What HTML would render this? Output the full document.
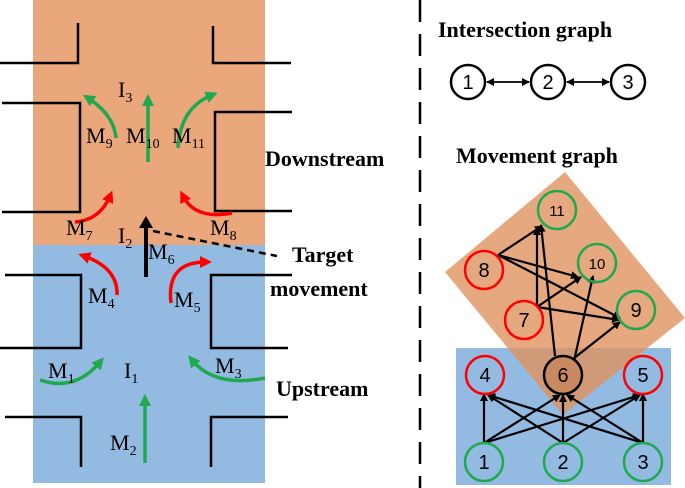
<!DOCTYPE html><html><head><style>body{margin:0;background:#fff}svg{display:block}</style></head><body>
<svg width="685" height="488" viewBox="0 0 685 488" xmlns="http://www.w3.org/2000/svg" font-family="Liberation Serif, serif">
<defs>
<marker id="ab" markerWidth="8" markerHeight="8" refX="7" refY="4" orient="auto" markerUnits="userSpaceOnUse"><path d="M0,0L8,4L0,8z" fill="#000"/></marker>
<marker id="ab2" markerWidth="8" markerHeight="8" refX="1" refY="4" orient="auto" markerUnits="userSpaceOnUse"><path d="M8,0L0,4L8,8z" fill="#000"/></marker>
<marker id="ag" markerWidth="12" markerHeight="12" refX="6" refY="6" orient="auto" markerUnits="userSpaceOnUse"><path d="M0,0L12,6L0,12z" fill="#1fa84f"/></marker>
<marker id="ar" markerWidth="12" markerHeight="12" refX="6" refY="6" orient="auto" markerUnits="userSpaceOnUse"><path d="M0,0L12,6L0,12z" fill="#f00"/></marker>
<marker id="ak" markerWidth="12" markerHeight="14" refX="6" refY="7" orient="auto" markerUnits="userSpaceOnUse"><path d="M0,0L12,7L0,14z" fill="#000"/></marker>
</defs>
<rect x="33" y="0" width="232" height="245" fill="#eba77c"/>
<rect x="33" y="245" width="232" height="238" fill="#93bbe2"/>
<g stroke="#000" stroke-width="2.5" fill="none">
<path d="M0,63H78V23M213,26V63H291M2,103H80V212H2M292,112H215V211H292M5,275H81V348H0M292,275H211V348H288M5,417H81V467M211,467V417H288"/>
</g>
<line x1="420" y1="0" x2="420" y2="488" stroke="#000" stroke-width="2.5" stroke-dasharray="22,12"/>
<!-- green arrows -->
<g stroke="#1fa84f" stroke-width="3.5" fill="none">
<path d="M116,138Q114,115 88,98" marker-end="url(#ag)"/>
<path d="M148,162V100" marker-end="url(#ag)"/>
<path d="M178,148Q180,108 212,95" marker-end="url(#ag)"/>
<path d="M40,380Q75,392 100,362" marker-end="url(#ag)"/>
<path d="M265,378Q215,388 192,360" marker-end="url(#ag)"/>
<path d="M145,463V400" marker-end="url(#ag)"/>
</g>
<g stroke="#f00" stroke-width="3.5" fill="none">
<path d="M75,222Q100,220 110,196" marker-end="url(#ar)"/>
<path d="M232,213Q195,220 183,196" marker-end="url(#ar)"/>
<path d="M117,295Q118,268 84,256" marker-end="url(#ar)"/>
<path d="M171,303Q166,262 206,262" marker-end="url(#ar)"/>
</g>
<path d="M146,277V222" stroke="#000" stroke-width="4" marker-end="url(#ak)"/>
<line x1="153" y1="231" x2="277" y2="256" stroke="#000" stroke-width="2.5" stroke-dasharray="7,5"/>
<g font-size="22" fill="#000">
<text x="118" y="97">I<tspan font-size="14" dy="5">3</tspan></text>
<text x="86" y="143">M<tspan font-size="14" dy="5">9</tspan></text>
<text x="126" y="143">M<tspan font-size="14" dy="5">10</tspan></text>
<text x="172" y="143">M<tspan font-size="14" dy="5">11</tspan></text>
<text x="66" y="235">M<tspan font-size="14" dy="5">7</tspan></text>
<text x="210" y="235">M<tspan font-size="14" dy="5">8</tspan></text>
<text x="118" y="243">I<tspan font-size="14" dy="5">2</tspan></text>
<text x="148" y="259">M<tspan font-size="14" dy="5">6</tspan></text>
<text x="88" y="303">M<tspan font-size="14" dy="5">4</tspan></text>
<text x="174" y="307">M<tspan font-size="14" dy="5">5</tspan></text>
<text x="48" y="378">M<tspan font-size="14" dy="5">1</tspan></text>
<text x="124" y="378">I<tspan font-size="14" dy="5">1</tspan></text>
<text x="215" y="373">M<tspan font-size="14" dy="5">3</tspan></text>
<text x="110" y="450">M<tspan font-size="14" dy="5">2</tspan></text>
</g>
<g font-size="22" font-weight="bold" fill="#000">
<text x="265" y="166">Downstream</text>
<text x="292" y="262">Target</text>
<text x="270" y="296">movement</text>
<text x="276" y="396">Upstream</text>
<text x="438" y="37">Intersection graph</text>
<text x="456" y="163">Movement graph</text>
</g>
<!-- intersection graph -->
<g stroke="#000" stroke-width="2.5" fill="#fff">
<circle cx="468" cy="82" r="17"/><circle cx="548" cy="82" r="17"/><circle cx="628" cy="82" r="17"/>
</g>
<g stroke="#000" stroke-width="1.8">
<line x1="487" y1="82" x2="529" y2="82" marker-end="url(#ab)" marker-start="url(#ab2)"/>
<line x1="567" y1="82" x2="609" y2="82" marker-end="url(#ab)" marker-start="url(#ab2)"/>
</g>
<g font-family="Liberation Sans, sans-serif" font-size="20" text-anchor="middle">
<text x="468" y="89">1</text><text x="548" y="89">2</text><text x="628" y="89">3</text>
</g>
<!-- movement graph -->
<rect x="456" y="348" width="215" height="137" fill="#93bbe2"/>
<polygon points="565,172 685,318 563,415 445,272" fill="#e0925f" fill-opacity="0.8"/>
<g stroke="#000" stroke-width="2.2" fill="none">
<line x1="484" y1="443" x2="484" y2="394" marker-end="url(#ab)"/>
<line x1="484" y1="443" x2="560" y2="395" marker-end="url(#ab)"/>
<line x1="484" y1="443" x2="640" y2="395" marker-end="url(#ab)"/>
<line x1="563" y1="443" x2="488" y2="395" marker-end="url(#ab)"/>
<line x1="563" y1="443" x2="563" y2="395" marker-end="url(#ab)"/>
<line x1="563" y1="443" x2="640" y2="395" marker-end="url(#ab)"/>
<line x1="643" y1="443" x2="643" y2="394" marker-end="url(#ab)"/>
<line x1="643" y1="443" x2="567" y2="395" marker-end="url(#ab)"/>
<line x1="643" y1="443" x2="488" y2="395" marker-end="url(#ab)"/>
<line x1="573" y1="359" x2="620" y2="322" marker-end="url(#ab)"/>
<line x1="574" y1="361" x2="593" y2="276" marker-end="url(#ab)"/>
<line x1="555" y1="356" x2="541" y2="225" marker-end="url(#ab)"/>
<line x1="537" y1="307" x2="537" y2="228" marker-end="url(#ab)"/>
<line x1="537" y1="307" x2="581" y2="277" marker-end="url(#ab)"/>
<line x1="537" y1="307" x2="619" y2="320" marker-end="url(#ab)"/>
<line x1="498" y1="255" x2="542" y2="226" marker-end="url(#ab)"/>
<line x1="498" y1="255" x2="620" y2="318" marker-end="url(#ab)"/>
<line x1="498" y1="255" x2="578" y2="277" marker-end="url(#ab)"/>
</g>
<g stroke-width="2.5" fill="none">
<circle cx="484" cy="462" r="19" stroke="#1fa84f"/><circle cx="563" cy="462" r="19" stroke="#1fa84f"/><circle cx="643" cy="462" r="19" stroke="#1fa84f"/>
<circle cx="485" cy="375" r="19" stroke="#f00"/><circle cx="643" cy="375" r="19" stroke="#f00"/>
<circle cx="563" cy="375" r="19" stroke="#000" fill="#c98a62"/>
<circle cx="524" cy="320" r="19" stroke="#f00"/><circle cx="484" cy="270" r="19" stroke="#f00"/>
<circle cx="636" cy="310" r="19" stroke="#1fa84f"/><circle cx="597" cy="263" r="19" stroke="#1fa84f"/><circle cx="557" cy="210" r="19" stroke="#1fa84f"/>
</g>
<g font-family="Liberation Sans, sans-serif" font-size="20" text-anchor="middle">
<text x="484" y="469">1</text><text x="563" y="469">2</text><text x="643" y="469">3</text>
<text x="485" y="382">4</text><text x="563" y="382">6</text><text x="643" y="382">5</text>
<text x="524" y="327">7</text><text x="484" y="277">8</text><text x="636" y="317">9</text>
<text x="597" y="269" font-size="15">10</text><text x="557" y="216" font-size="15">11</text>
</g>
</svg>
</body></html>
